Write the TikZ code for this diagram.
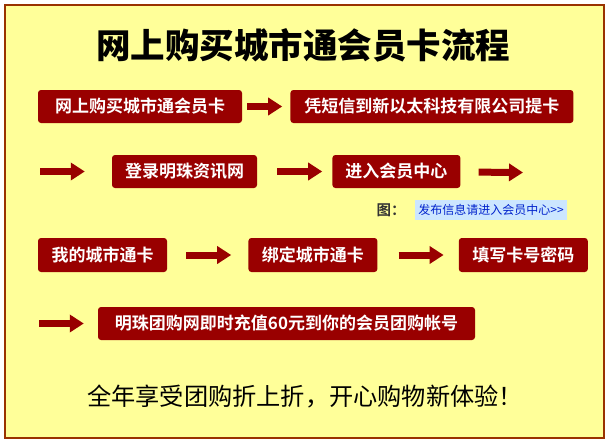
\documentclass[tikz,border=0pt]{standalone}
\usepackage{fontspec}
\setmainfont{Noto Sans CJK SC}[BoldFont={Noto Sans CJK SC Bold}]
\newfontfamily\ttlfont{Noto Sans CJK SC Black}
\usepackage{xcolor}
\usepackage{tikz}
\usetikzlibrary{arrows.meta,positioning}
\definecolor{paper}{HTML}{FFFF99}
\definecolor{frame}{HTML}{993300}
\definecolor{boxred}{HTML}{990000}
\definecolor{linkbg}{HTML}{CCE6FF}
\definecolor{linkfg}{HTML}{0022CC}
\tikzset{
  box/.style={fill=boxred, rounded corners=3pt, align=center, minimum height=33pt, inner sep=0pt, text=white, font=\fontsize{17}{20}\selectfont\bfseries},
  arr/.style={-{Triangle[length=14pt, width=17pt]}, line width=7pt, boxred},
  ttl/.style={inner sep=0pt, font=\ttlfont\fontsize{34.5}{38}\selectfont},
  foot/.style={inner sep=0pt, font=\fontsize{24.2}{28}\selectfont},
  link/.style={fill=linkbg, inner sep=0pt, minimum width=152pt, minimum height=20pt, text=linkfg, font=\fontsize{12}{14}\selectfont},
}
\begin{document}
\begin{tikzpicture}[x=1pt, y=-1pt, node distance=48pt]
\fill[white] (0,0) rectangle (609,444);
\useasboundingbox (0,0) rectangle (609,444);
\draw[frame, fill=paper, line width=1.5pt] (5,5) rectangle (604,438);
\node[ttl] (title) at (303,45) {网上购买城市通会员卡流程};
\node[box, minimum width=204pt] (buy) at (140,106.5) {网上购买城市通会员卡};
\node[box, minimum width=283pt, right=of buy] (pick) {凭短信到新以太科技有限公司提卡};
\node[box, minimum width=145pt] (login) at (184.5,171.5) {登录明珠资讯网};
\node[box, minimum width=128pt, right=75pt of login] (center) {进入会员中心};
\node[inner sep=0pt, text=black!80, font=\fontsize{14.5}{16}\selectfont\bfseries] (fig) at (391,210.5) {图：};
\node[link] (site) at (491,210) {发布信息请进入会员中心>\kern0pt>};
\node[box, minimum width=129pt, minimum height=34pt] (mycard) at (102.5,255) {我的城市通卡};
\node[box, minimum width=129pt, minimum height=34pt, right=81pt of mycard] (bind) {绑定城市通卡};
\node[box, minimum width=129pt, minimum height=34pt, right=81pt of bind] (code) {填写卡号密码};
\node[box, minimum width=377pt] (pay) at (286.5,323.5) {明珠团购网即时充值60元到你的会员团购帐号};
\node[foot] (slogan) at (305,396) {全年享受团购折上折，开心购物新体验！};
\coordinate (r2) at (40,171.5);
\coordinate (r2e) at (523,172.5);
\coordinate (r4) at (39,323.5);
\draw[arr, shorten <=5pt, shorten >=8pt] (buy) -- (pick);
\draw[arr, shorten >=27pt] (r2) -- (login);
\draw[arr, shorten <=20pt, shorten >=10pt] (login) -- (center);
\draw[arr, shorten <=18pt] (center) -- (r2e);
\draw[arr, shorten <=19pt, shorten >=17pt] (mycard) -- (bind);
\draw[arr, shorten <=21pt, shorten >=15pt] (bind) -- (code);
\draw[arr, shorten >=14pt] (r4) -- (pay);
\end{tikzpicture}
\end{document}
